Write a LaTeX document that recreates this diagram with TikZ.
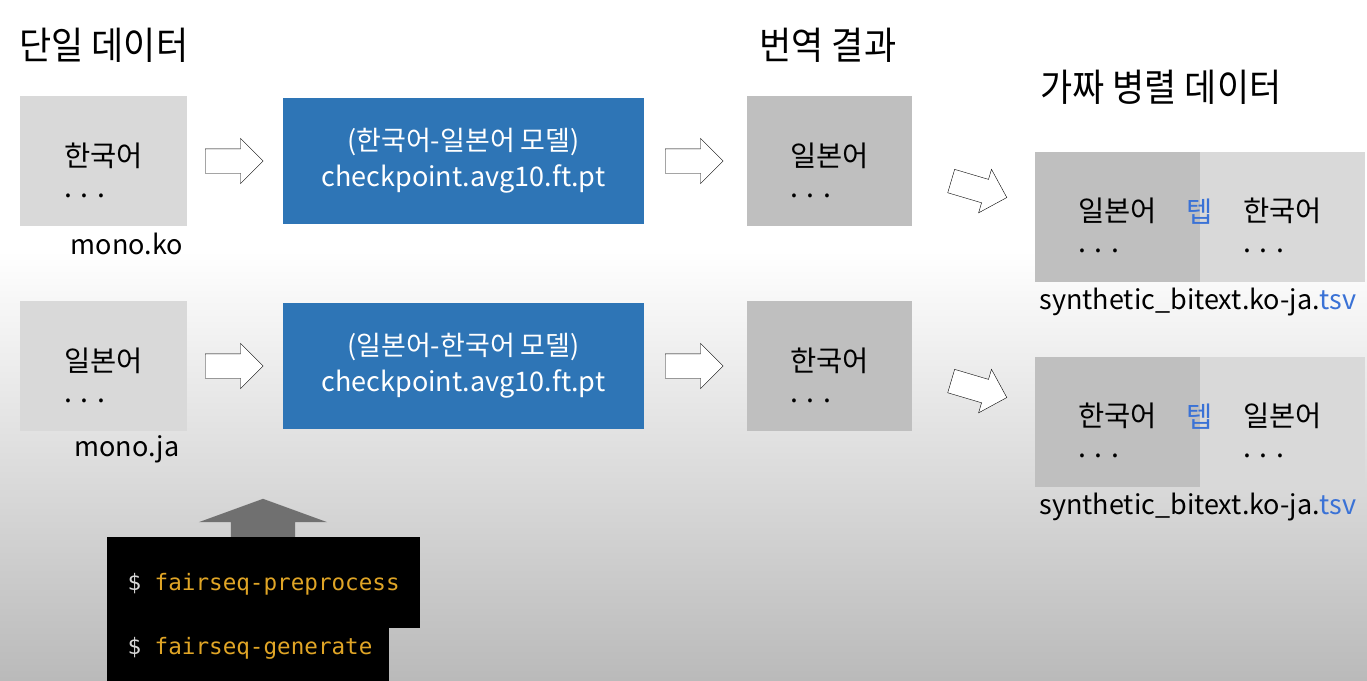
\documentclass[tikz,border=0pt]{standalone}
\usepackage{fontspec}
\setmainfont{Noto Sans CJK KR}
\newfontfamily\krcond{Noto Sans CJK KR}[FakeStretch=0.92]
\setmonofont{DejaVu Sans Mono}
\usetikzlibrary{shapes.arrows}

\definecolor{modelblue}{HTML}{2E75B6}
\definecolor{srcgray}{HTML}{D9D9D9}
\definecolor{outgray}{HTML}{BFBFBF}
\definecolor{tabblue}{HTML}{3A72D6}
\definecolor{cmdgold}{HTML}{E0A526}
\definecolor{dollargray}{HTML}{D8D8D8}
\definecolor{bggray}{HTML}{BABABA}
\definecolor{feedgray}{HTML}{707070}

\newcommand{\krtitle}{\krcond\fontsize{38}{40}\selectfont}
\newcommand{\krbody}{\fontsize{28.5}{31}\selectfont}
\newcommand{\krfile}{\fontsize{27}{30}\selectfont}
\newcommand{\krmodel}{\fontsize{27}{36}\selectfont}
\newcommand{\cmdfont}{\ttfamily\fontsize{22.6}{24}\selectfont}

\begin{document}
\begin{tikzpicture}[x=1pt, y=-1pt,
		databox/.style={fill=#1, minimum width=167pt, minimum height=130pt, inner sep=0pt},
		datatext/.style={align=left, font=\krbody, inner sep=0pt},
		modelbox/.style={fill=modelblue, text=white, minimum width=361pt, minimum height=126pt, inner sep=0pt, align=center, font=\krmodel},
		hollow/.style={single arrow, draw=black, fill=white, thin, anchor=tail, minimum height=58pt, inner xsep=0pt, inner ysep=12pt, single arrow head extend=10.5pt},
		cmdbox/.style={fill=black, inner sep=0pt}]
	\useasboundingbox (0,0) rectangle (1367,680);
	\fill[white] (0,0) rectangle (1367,680);
	\shade[top color=white, bottom color=bggray] (0,250) rectangle (1367,680);

	\node[font=\krtitle, anchor=west] (monotitle) at (16,45) {단일 데이터};
	\node[font=\krtitle] (transtitle) at (828,45) {번역 결과};
	\node[font=\krtitle] (faketitle) at (1161,87) {가짜 병렬 데이터};

	\foreach \r/\y/\dy/\src/\tgt/\ext in {1/161/20/한국어/일본어/ko, 2/366/15/일본어/한국어/ja} {
		\node[databox=srcgray] (src\r) at (103.5,\y) {};
		\node[datatext] (srctext\r) at (103.5,\y+9) {\src\\. . .};
		\node[font=\krfile] (file\r) at (127,\y+83) {mono.\ext};
		\node[hollow] (in\r) at (205,\y) {};
		\node[modelbox] (model\r) at (463.5,\y) {(\src-\tgt{} 모델)\\checkpoint.avg10.ft.pt};
		\node[hollow] (out\r) at (665,\y) {};
		\node[databox=outgray, minimum width=165pt] (res\r) at (829.5,\y) {};
		\node[datatext] (restext\r) at (829.5,\y+9) {\tgt\\. . .};
		\node[hollow, rotate=-16.5] (pairarrow\r) at (951,\y+\dy) {};
		\node[databox=outgray, minimum width=165pt] (pairL\r) at (1117.5,\y+55.5) {};
		\node[databox=srcgray, minimum width=165pt] (pairR\r) at (1282.5,\y+55.5) {};
		\node[datatext] (pairLtext\r) at (1117.5,\y+64) {\tgt\\. . .};
		\node[datatext] (pairRtext\r) at (1282.5,\y+64) {\src\\. . .};
		\node[font=\krbody, text=tabblue] (tab\r) at (1200,\y+51) {텝};
		\node[font=\krfile] (bitext\r) at (1198,\y+141) {synthetic\_bitext.ko-ja.\textcolor{tabblue}{tsv}};
	}

	\node[single arrow, rotate=90, anchor=tail, fill=feedgray, minimum height=38pt, inner xsep=0pt, inner ysep=32pt, single arrow head extend=32pt, single arrow tip angle=140] (feed) at (263,537) {};
	\node[cmdbox, minimum width=313pt, minimum height=91pt] (cmdA) at (263.5,582.5) {};
	\node[cmdbox, minimum width=282pt, minimum height=56pt] (cmdB) at (248,655) {};
	\node[font=\cmdfont, text=cmdgold, anchor=west] (prep) at (124,584) {\textcolor{dollargray}{\$} fairseq-preprocess};
	\node[font=\cmdfont, text=cmdgold, anchor=west] (gen) at (124,648) {\textcolor{dollargray}{\$} fairseq-generate};
\end{tikzpicture}
\end{document}
